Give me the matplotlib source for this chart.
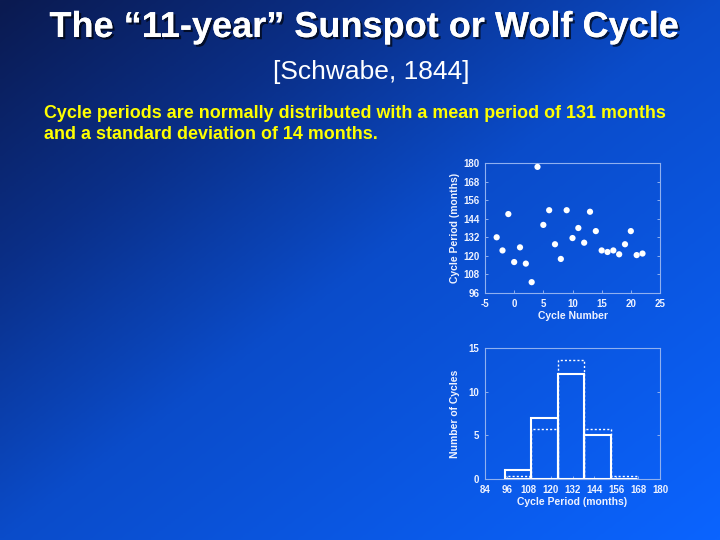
import numpy as np
import matplotlib
matplotlib.use("Agg")
import matplotlib.pyplot as plt
import matplotlib.patheffects as pe
from matplotlib.colors import LinearSegmentedColormap

plt.rcParams["axes.unicode_minus"] = False

# ---------------- data ----------------
cycle_number = [-3, -2, -1, 0, 1, 2, 3, 4, 5, 6, 7, 8, 9, 10, 11, 12, 13,
                14, 15, 16, 17, 18, 19, 20, 21, 22]
cycle_period = [132, 123.5, 147, 116, 125.5, 115, 103, 177.5, 140, 149.5,
                127.5, 118, 149.5, 131.5, 138, 128.5, 148.5, 136, 123.5,
                122.5, 123.5, 121, 127.5, 136, 120.5, 121.5]

hist_edges = [95, 109.5, 124, 138.5, 153, 167.5]
hist_counts = [1, 7, 12, 5, 0]
normal_expected = [0.3, 5.7, 13.6, 5.7, 0.3]

scatter_xticks = [-5, 0, 5, 10, 15, 20, 25]
scatter_yticks = [96, 108, 120, 132, 144, 156, 168, 180]
hist_xticks = [84, 96, 108, 120, 132, 144, 156, 168, 180]
hist_yticks = [0, 5, 10, 15]

title = "The \u201c11-year\u201d Sunspot or Wolf Cycle"
subtitle = "[Schwabe, 1844]"
body_lines = ["Cycle periods are normally distributed with a mean period of 131 months",
              "and a standard deviation of 14 months."]

# ---------------- figure ----------------
W, H = 720, 540
fig = plt.figure(figsize=(7.2, 5.4), dpi=100)

# background gradient
bg = fig.add_axes([0, 0, 1, 1], zorder=-10)
xx, yy = np.meshgrid(np.linspace(0, 1, 360), np.linspace(0, 1, 270))
t = (xx + yy) / 2.0
cmap = LinearSegmentedColormap.from_list(
    "bg", [(0.0, "#0b1a50"), (0.25, "#0a2f88"), (0.5, "#0a4cca"), (1.0, "#0a64ff")])
bg.imshow(t, cmap=cmap, aspect="auto", extent=[0, 1, 0, 1], origin="upper",
          interpolation="bilinear")
bg.set_axis_off()

frame_col = "#8fb0f0"
txt_col = "#eef2ff"
font_bold = ["Liberation Sans", "DejaVu Sans"]

# texts
shadow = [pe.withSimplePatchShadow(offset=(1.6, -1.6), shadow_rgbFace="#000000", alpha=0.65),
          pe.Normal()]
fig.text(364 / W, 1 - 37 / H, title, ha="center", va="baseline", color="white",
         fontsize=26, fontweight="bold", family=font_bold, path_effects=shadow)
fig.text(371 / W, 1 - 79 / H, subtitle, ha="center", va="baseline", color="white",
         fontsize=19, family=font_bold)
for i, line in enumerate(body_lines):
    fig.text(44 / W, 1 - (118 + 21 * i) / H, line, ha="left", va="baseline",
             color="#ffff00", fontsize=12.9, fontweight="bold", family=font_bold)


def style_axes(ax):
    ax.set_facecolor("none")
    for s in ax.spines.values():
        s.set_color(frame_col)
        s.set_linewidth(0.8)
    ax.tick_params(direction="in", length=2.5, width=0.7, color=frame_col,
                   labelcolor=txt_col, labelsize=7, top=False, right=True, pad=4)
    for lab in ax.get_xticklabels() + ax.get_yticklabels():
        lab.set_fontweight("bold")
        lab.set_family(font_bold)


# scatter axes
ax1 = fig.add_axes([485 / W, 1 - 293 / H, 175 / W, 130 / H])
ax1.scatter(cycle_number, cycle_period, s=20, color="white", edgecolors="none", zorder=3)
ax1.set_xlim(-5, 25)
ax1.set_ylim(96, 180)
ax1.set_xticks(scatter_xticks)
ax1.set_yticks(scatter_yticks)
style_axes(ax1)
ax1.set_xlabel("Cycle Number", color=txt_col, fontsize=7.5, fontweight="bold",
               family=font_bold, labelpad=2)
ax1.set_ylabel("Cycle Period (months)", color=txt_col, fontsize=7.5, fontweight="bold",
               family=font_bold, labelpad=2)

# histogram axes
ax2 = fig.add_axes([485 / W, 1 - 479 / H, 175 / W, 131 / H])
edges = np.array(hist_edges)
widths = np.diff(edges)
ax2.bar(edges[:-1], normal_expected, width=widths, align="edge", fill=False,
        edgecolor="white", linestyle=(0, (1.5, 1.5)), linewidth=1.0, zorder=2)
ax2.bar(edges[:-1], hist_counts, width=widths, align="edge", fill=False,
        edgecolor="white", linewidth=1.5, zorder=3)
ax2.set_xlim(84, 180)
ax2.set_ylim(0, 15)
ax2.set_xticks(hist_xticks)
ax2.set_yticks(hist_yticks)
style_axes(ax2)
ax2.set_xlabel("Cycle Period (months)", color=txt_col, fontsize=7.5, fontweight="bold",
               family=font_bold, labelpad=2)
ax2.set_ylabel("Number of Cycles", color=txt_col, fontsize=7.5, fontweight="bold",
               family=font_bold, labelpad=6)

fig.savefig("out.png", dpi=100)
